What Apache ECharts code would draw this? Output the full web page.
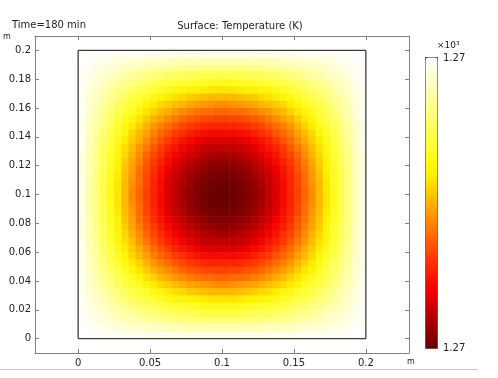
<!DOCTYPE html>
<html>
<head>
<meta charset="utf-8">
<script src="https://cdn.jsdelivr.net/npm/echarts@6/dist/echarts.min.js"></script>
<style>
  html, body { margin: 0; padding: 0; background: #fff; }
  #chart { width: 498px; height: 378px; }
</style>
</head>
<body>
<div id="chart"></div>
<script>
// cell centres of the surface plot (m)
var xCells = [0.0025, 0.0075, 0.0125, 0.0175, 0.0225, 0.0275, 0.0325, 0.0375, 0.0425, 0.0475,
  0.0525, 0.0575, 0.0625, 0.0675, 0.0725, 0.0775, 0.0825, 0.0875, 0.0925, 0.0975,
  0.1025, 0.1075, 0.1125, 0.1175, 0.1225, 0.1275, 0.1325, 0.1375, 0.1425, 0.1475,
  0.1525, 0.1575, 0.1625, 0.1675, 0.1725, 0.1775, 0.1825, 0.1875, 0.1925, 0.1975];
// rows run from top (y = 0.1975) to bottom
var yCells = [0.1975, 0.1925, 0.1875, 0.1825, 0.1775, 0.1725, 0.1675, 0.1625, 0.1575, 0.1525,
  0.1475, 0.1425, 0.1375, 0.1325, 0.1275, 0.1225, 0.1175, 0.1125, 0.1075, 0.1025,
  0.0975, 0.0925, 0.0875, 0.0825, 0.0775, 0.0725, 0.0675, 0.0625, 0.0575, 0.0525,
  0.0475, 0.0425, 0.0375, 0.0325, 0.0275, 0.0225, 0.0175, 0.0125, 0.0075, 0.0025];
var cellSize = 0.005;

// relative temperature level, 0 = coldest (centre), 100 = hottest (edges)
var tempGrid = [
  [100,100,99,99,99,98,98,98,98,97,97,97,97,97,96,96,96,96,96,96,96,96,96,96,96,96,97,97,97,97,97,98,98,98,98,99,99,99,100,100],
  [100,99,98,97,96,95,94,93,93,92,91,91,90,90,89,89,89,88,88,88,88,88,88,89,89,89,90,90,91,91,92,93,93,94,95,96,97,98,99,100],
  [99,98,96,95,93,92,90,89,88,87,86,85,84,83,82,82,81,81,81,81,81,81,81,81,82,82,83,84,85,86,87,88,89,90,92,93,95,96,98,99],
  [99,97,95,93,91,89,87,85,83,82,80,79,77,76,75,75,74,73,73,73,73,73,73,74,75,75,76,77,79,80,82,83,85,87,89,91,93,95,97,99],
  [99,96,93,91,88,86,83,81,79,77,75,73,71,70,69,68,67,66,66,65,65,66,66,67,68,69,70,71,73,75,77,79,81,83,86,88,91,93,96,99],
  [98,95,92,89,86,82,80,77,74,72,69,67,65,63,62,61,60,59,58,58,58,58,59,60,61,62,63,65,67,69,72,74,77,80,82,86,89,92,95,98],
  [98,94,90,87,83,80,76,73,70,67,64,62,59,57,56,54,53,52,51,51,51,51,52,53,54,56,57,59,62,64,67,70,73,76,80,83,87,90,94,98],
  [98,93,89,85,81,77,73,69,66,62,59,56,54,52,50,48,47,46,45,44,44,45,46,47,48,50,52,54,56,59,62,66,69,73,77,81,85,89,93,98],
  [98,93,88,83,79,74,70,66,62,58,55,51,49,46,44,42,40,39,39,38,38,39,39,40,42,44,46,49,51,55,58,62,66,70,74,79,83,88,93,98],
  [97,92,87,82,77,72,67,62,58,54,50,47,44,41,38,36,35,33,33,32,32,33,33,35,36,38,41,44,47,50,54,58,62,67,72,77,82,87,92,97],
  [97,91,86,80,75,69,64,59,55,50,46,42,39,36,33,31,29,28,27,27,27,27,28,29,31,33,36,39,42,46,50,55,59,64,69,75,80,86,91,97],
  [97,91,85,79,73,67,62,56,51,47,42,38,35,31,29,26,24,23,22,22,22,22,23,24,26,29,31,35,38,42,47,51,56,62,67,73,79,85,91,97],
  [97,90,84,77,71,65,59,54,49,44,39,35,31,27,24,22,20,18,17,17,17,17,18,20,22,24,27,31,35,39,44,49,54,59,65,71,77,84,90,97],
  [97,90,83,76,70,63,57,52,46,41,36,31,27,24,21,18,16,14,13,13,13,13,14,16,18,21,24,27,31,36,41,46,52,57,63,70,76,83,90,97],
  [96,89,82,75,69,62,56,50,44,38,33,29,24,21,18,15,13,11,10,9,9,10,11,13,15,18,21,24,29,33,38,44,50,56,62,69,75,82,89,96],
  [96,89,82,75,68,61,54,48,42,36,31,26,22,18,15,12,10,8,7,6,6,7,8,10,12,15,18,22,26,31,36,42,48,54,61,68,75,82,89,96],
  [96,89,81,74,67,60,53,47,40,35,29,24,20,16,13,10,7,6,4,4,4,4,6,7,10,13,16,20,24,29,35,40,47,53,60,67,74,81,89,96],
  [96,88,81,73,66,59,52,46,39,33,28,23,18,14,11,8,6,4,3,2,2,3,4,6,8,11,14,18,23,28,33,39,46,52,59,66,73,81,88,96],
  [96,88,81,73,66,58,51,45,39,33,27,22,17,13,10,7,4,3,1,1,1,1,3,4,7,10,13,17,22,27,33,39,45,51,58,66,73,81,88,96],
  [96,88,81,73,65,58,51,44,38,32,27,22,17,13,9,6,4,2,1,0,0,1,2,4,6,9,13,17,22,27,32,38,44,51,58,65,73,81,88,96],
  [96,88,81,73,65,58,51,44,38,32,27,22,17,13,9,6,4,2,1,0,0,1,2,4,6,9,13,17,22,27,32,38,44,51,58,65,73,81,88,96],
  [96,88,81,73,66,58,51,45,39,33,27,22,17,13,10,7,4,3,1,1,1,1,3,4,7,10,13,17,22,27,33,39,45,51,58,66,73,81,88,96],
  [96,88,81,73,66,59,52,46,39,33,28,23,18,14,11,8,6,4,3,2,2,3,4,6,8,11,14,18,23,28,33,39,46,52,59,66,73,81,88,96],
  [96,89,81,74,67,60,53,47,40,35,29,24,20,16,13,10,7,6,4,4,4,4,6,7,10,13,16,20,24,29,35,40,47,53,60,67,74,81,89,96],
  [96,89,82,75,68,61,54,48,42,36,31,26,22,18,15,12,10,8,7,6,6,7,8,10,12,15,18,22,26,31,36,42,48,54,61,68,75,82,89,96],
  [96,89,82,75,69,62,56,50,44,38,33,29,24,21,18,15,13,11,10,9,9,10,11,13,15,18,21,24,29,33,38,44,50,56,62,69,75,82,89,96],
  [97,90,83,76,70,63,57,52,46,41,36,31,27,24,21,18,16,14,13,13,13,13,14,16,18,21,24,27,31,36,41,46,52,57,63,70,76,83,90,97],
  [97,90,84,77,71,65,59,54,49,44,39,35,31,27,24,22,20,18,17,17,17,17,18,20,22,24,27,31,35,39,44,49,54,59,65,71,77,84,90,97],
  [97,91,85,79,73,67,62,56,51,47,42,38,35,31,29,26,24,23,22,22,22,22,23,24,26,29,31,35,38,42,47,51,56,62,67,73,79,85,91,97],
  [97,91,86,80,75,69,64,59,55,50,46,42,39,36,33,31,29,28,27,27,27,27,28,29,31,33,36,39,42,46,50,55,59,64,69,75,80,86,91,97],
  [97,92,87,82,77,72,67,62,58,54,50,47,44,41,38,36,35,33,33,32,32,33,33,35,36,38,41,44,47,50,54,58,62,67,72,77,82,87,92,97],
  [98,93,88,83,79,74,70,66,62,58,55,51,49,46,44,42,40,39,39,38,38,39,39,40,42,44,46,49,51,55,58,62,66,70,74,79,83,88,93,98],
  [98,93,89,85,81,77,73,69,66,62,59,56,54,52,50,48,47,46,45,44,44,45,46,47,48,50,52,54,56,59,62,66,69,73,77,81,85,89,93,98],
  [98,94,90,87,83,80,76,73,70,67,64,62,59,57,56,54,53,52,51,51,51,51,52,53,54,56,57,59,62,64,67,70,73,76,80,83,87,90,94,98],
  [98,95,92,89,86,82,80,77,74,72,69,67,65,63,62,61,60,59,58,58,58,58,59,60,61,62,63,65,67,69,72,74,77,80,82,86,89,92,95,98],
  [99,96,93,91,88,86,83,81,79,77,75,73,71,70,69,68,67,66,66,65,65,66,66,67,68,69,70,71,73,75,77,79,81,83,86,88,91,93,96,99],
  [99,97,95,93,91,89,87,85,83,82,80,79,77,76,75,75,74,73,73,73,73,73,73,74,75,75,76,77,79,80,82,83,85,87,89,91,93,95,97,99],
  [99,98,96,95,93,92,90,89,88,87,86,85,84,83,82,82,81,81,81,81,81,81,81,81,82,82,83,84,85,86,87,88,89,90,92,93,95,96,98,99],
  [100,99,98,97,96,95,94,93,93,92,91,91,90,90,89,89,89,88,88,88,88,88,88,89,89,89,90,90,91,91,92,93,93,94,95,96,97,98,99,100],
  [100,100,99,99,99,98,98,98,98,97,97,97,97,97,96,96,96,96,96,96,96,96,96,96,96,96,97,97,97,97,97,98,98,98,98,99,99,99,100,100]
];

// outline of the square domain
var domainCorners = [[0, 0], [0.2, 0], [0.2, 0.2], [0, 0.2], [0, 0]];

// tick labels
var xTicks = [0, 0.05, 0.1, 0.15, 0.2];
var yTicks = [0, 0.02, 0.04, 0.06, 0.08, 0.1, 0.12, 0.14, 0.16, 0.18, 0.2];

// colour table (dark red -> red -> orange -> yellow -> white)
var heatColors = ['#660000', '#ac0000', '#f10000', '#ff3300', '#ff7200', '#ffb200',
  '#fff200', '#ffff36', '#ffff79', '#ffffbc', '#ffffff'];

var FONT = 'DejaVu Sans';

// flatten grid for the custom series
var cells = [];
for (var r = 0; r < yCells.length; r++) {
  for (var c = 0; c < xCells.length; c++) {
    cells.push([xCells[c], yCells[r], tempGrid[r][c]]);
  }
}

function axisCommon(extra) {
  var ax = {
    type: 'value',
    axisLine: { show: true, onZero: false, lineStyle: { color: '#808080', width: 1 } },
    axisTick: { show: true, inside: true, length: 4, lineStyle: { color: '#808080' } },
    splitLine: { show: false },
    axisLabel: { color: '#222', fontFamily: FONT, fontSize: 10, margin: 4 }
  };
  for (var k in extra) ax[k] = extra[k];
  return ax;
}

var chart = echarts.init(document.getElementById('chart'), null, { renderer: 'canvas' });

var option = {
  animation: false,
  backgroundColor: '#fff',
  grid: {
    left: 35, top: 36, right: 89, bottom: 25,
    outerBoundsMode: 'none'
  },
  xAxis: [
    axisCommon({
      min: -0.03, max: 0.23, position: 'bottom',
      axisTick: { show: true, inside: true, length: 4, customValues: xTicks, lineStyle: { color: '#808080' } },
      axisLabel: { color: '#222', fontFamily: FONT, fontSize: 10, margin: 5, customValues: xTicks }
    }),
    axisCommon({
      min: -0.03, max: 0.23, position: 'top',
      axisTick: { show: true, inside: true, length: 4, customValues: xTicks, lineStyle: { color: '#808080' } },
      axisLabel: { show: false }
    })
  ],
  yAxis: [
    axisCommon({
      min: -0.01, max: 0.21, position: 'left',
      axisTick: { show: true, inside: true, length: 4, customValues: yTicks, lineStyle: { color: '#808080' } },
      axisLabel: { color: '#222', fontFamily: FONT, fontSize: 10, margin: 4, customValues: yTicks }
    }),
    axisCommon({
      min: -0.01, max: 0.21, position: 'right',
      axisTick: { show: true, inside: true, length: 4, customValues: yTicks, lineStyle: { color: '#808080' } },
      axisLabel: { show: false }
    })
  ],
  visualMap: {
    type: 'continuous',
    min: 0,
    max: 100,
    dimension: 2,
    seriesIndex: 0,
    calculable: false,
    realtime: false,
    orient: 'vertical',
    left: 425,
    top: 57,
    itemWidth: 12,
    itemHeight: 291,
    padding: 0,
    borderColor: '#444',
    borderWidth: 1,
    text: null,
    hoverLink: false,
    inRange: { color: heatColors }
  },
  series: [
    {
      type: 'custom',
      xAxisIndex: 0,
      yAxisIndex: 0,
      data: cells,
      encode: { x: 0, y: 1 },
      renderItem: function (params, api) {
        var x = api.value(0);
        var y = api.value(1);
        var p0 = api.coord([x - cellSize / 2, y + cellSize / 2]);
        var p1 = api.coord([x + cellSize / 2, y - cellSize / 2]);
        return {
          type: 'rect',
          shape: { x: p0[0], y: p0[1], width: p1[0] - p0[0] + 0.6, height: p1[1] - p0[1] + 0.6 },
          style: { fill: api.visual('color') }
        };
      }
    },
    {
      type: 'line',
      data: domainCorners,
      symbol: 'none',
      silent: true,
      lineStyle: { color: '#3c3c3c', width: 1.3 },
      z: 5
    }
  ],
  graphic: [
    { type: 'text', left: 12, top: 20, style: { text: 'Time=180 min', font: '10px ' + FONT, fill: '#222' } },
    { type: 'text', x: 240, y: 26, style: { text: 'Surface: Temperature (K)', font: '10px ' + FONT, fill: '#222', align: 'center', verticalAlign: 'middle' } },
    { type: 'text', x: 3, y: 37, style: { text: 'm', font: '8px ' + FONT, fill: '#222', verticalAlign: 'middle' } },
    { type: 'text', x: 411, y: 362, style: { text: 'm', font: '8px ' + FONT, fill: '#222', align: 'center', verticalAlign: 'middle' } },
    { type: 'text', x: 437, y: 46, style: { text: '×10³', font: '9px ' + FONT, fill: '#222', verticalAlign: 'middle' } },
    { type: 'text', x: 443, y: 58, style: { text: '1.27', font: '10px ' + FONT, fill: '#222', verticalAlign: 'middle' } },
    { type: 'text', x: 443, y: 348, style: { text: '1.27', font: '10px ' + FONT, fill: '#222', verticalAlign: 'middle' } },
    { type: 'line', shape: { x1: 0, y1: 369.5, x2: 478, y2: 369.5 }, style: { stroke: '#c4c4c4', lineWidth: 1 } }
  ]
};

chart.setOption(option);
</script>
</body>
</html>
